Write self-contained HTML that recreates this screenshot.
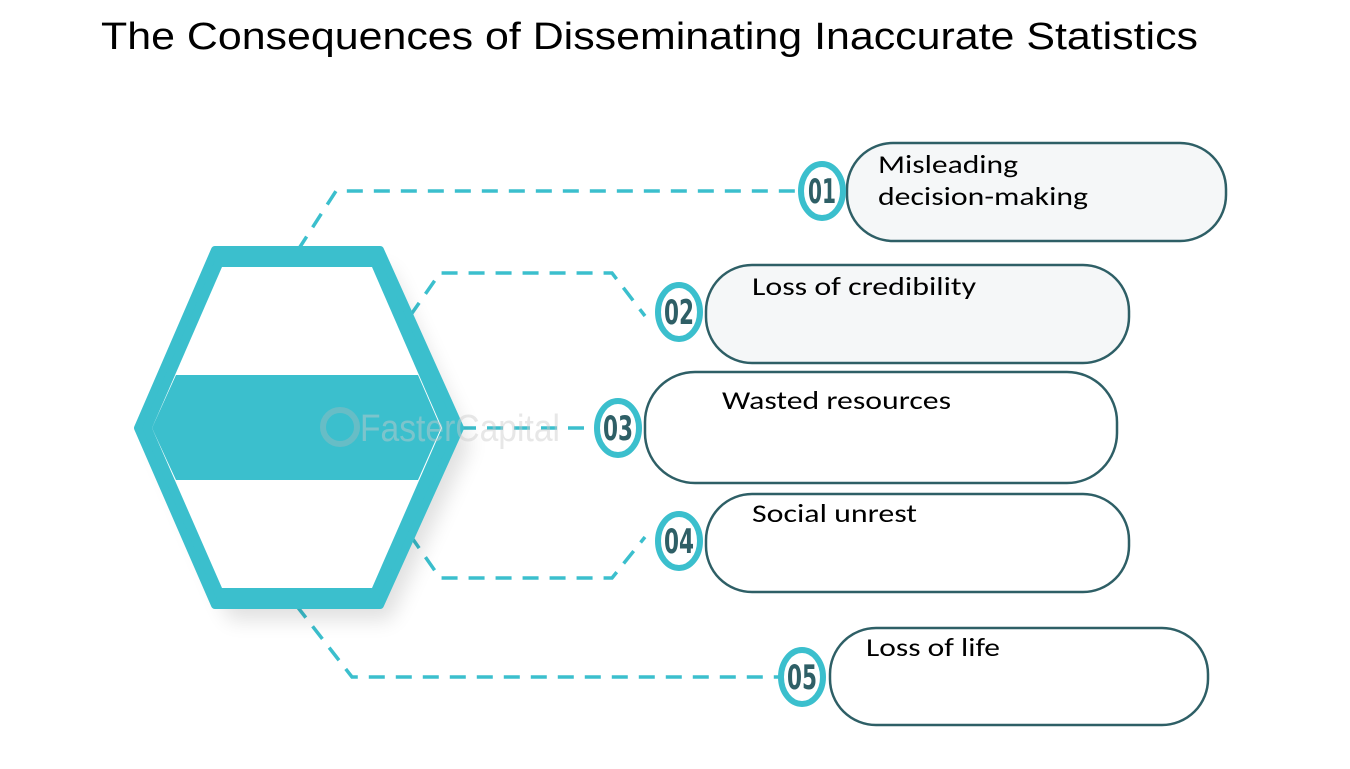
<!DOCTYPE html>
<html><head><meta charset="utf-8"><style>
html,body{margin:0;padding:0;background:#fff;}
svg{display:block;}
</style></head><body>
<svg width="1350" height="769" viewBox="0 0 1350 769" xmlns="http://www.w3.org/2000/svg">
<defs>
<filter id="sh" x="-20%" y="-20%" width="150%" height="150%"><feGaussianBlur stdDeviation="10"/></filter>
</defs>
<text x="101" y="49" font-family="Liberation Sans, Arial, sans-serif" font-size="38" fill="#000" textLength="1097" lengthAdjust="spacingAndGlyphs">The Consequences of Disseminating Inaccurate Statistics</text>

<!-- connectors -->
<g stroke="#3bbfcd" stroke-width="3.5" fill="none" stroke-dasharray="16,11">
<path d="M298,250 L336,191 L795,191"/>
<path d="M410,316 L440,273 L612,273 L645,316"/>
<path d="M460,428 L596,428"/>
<path d="M410,535 L440,578 L612,578 L645,537"/>
<path d="M296,605 L352,677 L780,677"/>
</g>

<!-- hexagon -->
<polygon points="230,270 390,270 470,445 390,620 230,620 155,445" fill="#000" opacity="0.12" filter="url(#sh)"/>
<polygon points="215,250 380,250 460,428 380,605 215,605 138,428" fill="#3bbfcd" stroke="#3bbfcd" stroke-width="8" stroke-linejoin="round"/>
<polygon points="222,267 372,267 442,428 372,588 222,588 152,428" fill="#fff"/>
<polygon points="176,375 418,375 441,428 418,480 176,480 152,428" fill="#3bbfcd"/>
<circle cx="340" cy="427" r="17" fill="none" stroke="#bbb" stroke-width="6" opacity="0.35"/>
<text x="360" y="441" font-family="Liberation Sans, sans-serif" font-size="38" fill="#ccc" opacity="0.45" textLength="200" lengthAdjust="spacingAndGlyphs">FasterCapital</text>

<!-- pills -->
<g stroke="#2e5f66" stroke-width="2.5">
<rect x="847" y="143" width="379" height="98" rx="46" fill="#f5f7f8"/>
<rect x="706" y="265" width="423" height="98" rx="46" fill="#f5f7f8"/>
<rect x="645" y="372" width="472" height="111" rx="50" fill="#fff"/>
<rect x="706" y="494" width="423" height="98" rx="46" fill="#fff"/>
<rect x="830" y="628" width="378" height="97" rx="46" fill="#fff"/>
</g>

<!-- number circles -->
<g fill="#fff" stroke="#3bbfcd" stroke-width="6">
<ellipse cx="822" cy="191" rx="21" ry="27"/>
<ellipse cx="679" cy="312" rx="21" ry="27"/>
<ellipse cx="618" cy="428" rx="21" ry="27"/>
<ellipse cx="679" cy="541" rx="21" ry="27"/>
<ellipse cx="802" cy="677" rx="21" ry="27"/>
</g>
<g font-family="DejaVu Sans Condensed, Liberation Sans Narrow, sans-serif" font-size="34" font-weight="bold" fill="#2e5f66" text-anchor="middle">
<text x="822" y="203" textLength="28" lengthAdjust="spacingAndGlyphs">01</text>
<text x="679" y="324" textLength="30" lengthAdjust="spacingAndGlyphs">02</text>
<text x="618" y="440" textLength="30" lengthAdjust="spacingAndGlyphs">03</text>
<text x="679" y="553" textLength="30" lengthAdjust="spacingAndGlyphs">04</text>
<text x="802" y="689" textLength="30" lengthAdjust="spacingAndGlyphs">05</text>
</g>

<g font-family="Carlito, Liberation Sans, sans-serif" font-size="26" fill="#000">
<text x="878" y="173" textLength="140" lengthAdjust="spacingAndGlyphs">Misleading</text>
<text x="878" y="205" textLength="210" lengthAdjust="spacingAndGlyphs">decision-making</text>
<text x="752" y="295" textLength="224" lengthAdjust="spacingAndGlyphs">Loss of credibility</text>
<text x="722" y="409" textLength="229" lengthAdjust="spacingAndGlyphs">Wasted resources</text>
<text x="752" y="522" textLength="165" lengthAdjust="spacingAndGlyphs">Social unrest</text>
<text x="866" y="656" textLength="134" lengthAdjust="spacingAndGlyphs">Loss of life</text>
</g>
</svg>
</body></html>
